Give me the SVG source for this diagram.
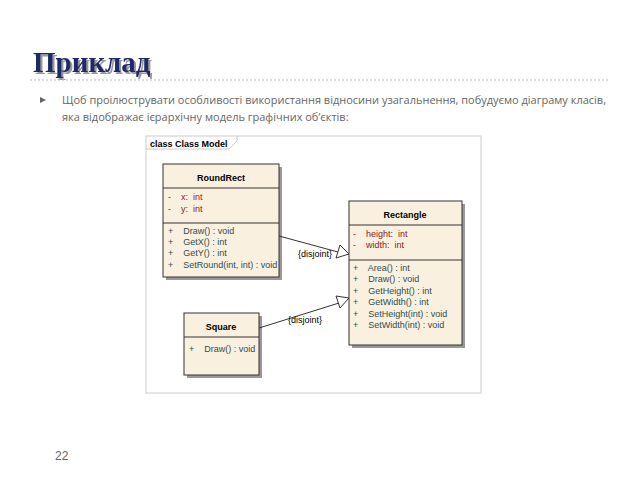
<svg xmlns="http://www.w3.org/2000/svg" width="638" height="478" viewBox="0 0 638 478">
<style>
.t{font-family:"Liberation Sans",Arial,sans-serif;font-size:9px;white-space:pre}
.b{font-weight:bold}
.a{fill:#8b1a1a}.m{fill:#2f4f4f}
.box{fill:#faf0e0;stroke:#333;stroke-width:1}
.sh{fill:#999}
.ln{stroke:#333;stroke-width:1;fill:none}
</style>
<defs><filter id="ds" x="-10%" y="-20%" width="130%" height="150%"><feDropShadow dx="2" dy="2" stdDeviation="0.3" flood-color="#999"/></filter></defs>
<rect width="638" height="478" fill="#fff"/>
<text x="33" y="72" font-family="Liberation Serif,serif" font-weight="bold" font-size="29" fill="#1f2a6b" filter="url(#ds)">Приклад</text>
<line x1="30" y1="80" x2="610" y2="80" stroke="#bbb" stroke-dasharray="2,2"/>
<path d="M40 97 l6 3 -6 3z" fill="#666"/>
<g font-family="Open Sans,Liberation Sans,sans-serif" font-size="11" fill="#666">
<text x="62" y="104" textLength="544">Щоб проілюструвати особливості використання відносини узагальнення, побудуємо діаграму класів,</text>
<text x="62" y="121">яка відображає ієрархічну модель графічних об’єктів:</text>
</g>
<text x="55" y="460" font-family="Liberation Sans,sans-serif" font-size="12" fill="#666">22</text>
<g id="frame">
<rect x="146" y="136" width="335" height="257" fill="#fff" stroke="#ccc"/>
<path d="M146 149 H229 L237 141 V136" fill="none" stroke="#ccc"/>
<text class="t b" x="150" y="147">class Class Model</text>
</g>
<g id="RoundRect">
<rect class="sh" x="166" y="167" width="116" height="113"/>
<rect class="box" x="163" y="164" width="116" height="113"/>
<line class="ln" x1="163" y1="188" x2="279" y2="188"/><line class="ln" x1="163" y1="223" x2="279" y2="223"/>
<text class="t b" x="221" y="181" text-anchor="middle">RoundRect</text>
<text class="t a" x="168" y="200" xml:space="preserve">-    x:  int</text><text class="t a" x="168" y="212" xml:space="preserve">-    y:  int</text>
<text class="t m" x="168" y="234" xml:space="preserve">+    Draw() : void</text><text class="t m" x="168" y="245" xml:space="preserve">+    GetX() : int</text>
<text class="t m" x="168" y="256" xml:space="preserve">+    GetY() : int</text><text class="t m" x="168" y="268" xml:space="preserve">+    SetRound(int, int) : void</text>
</g>
<g id="Rectangle">
<rect class="sh" x="352" y="204" width="113" height="144"/>
<rect class="box" x="349" y="201" width="113" height="144"/>
<line class="ln" x1="349" y1="225" x2="462" y2="225"/><line class="ln" x1="349" y1="260" x2="462" y2="260"/>
<text class="t b" x="405" y="218" text-anchor="middle">Rectangle</text>
<text class="t a" x="353" y="237" xml:space="preserve">-    height:  int</text><text class="t a" x="353" y="248" xml:space="preserve">-    width:  int</text>
<text class="t m" x="353" y="271" xml:space="preserve">+    Area() : int</text><text class="t m" x="353" y="282" xml:space="preserve">+    Draw() : void</text>
<text class="t m" x="353" y="294" xml:space="preserve">+    GetHeight() : int</text><text class="t m" x="353" y="305" xml:space="preserve">+    GetWidth() : int</text>
<text class="t m" x="353" y="317" xml:space="preserve">+    SetHeight(int) : void</text><text class="t m" x="353" y="328" xml:space="preserve">+    SetWidth(int) : void</text>
</g>
<g id="Square">
<rect class="sh" x="187" y="316" width="75" height="62"/>
<rect class="box" x="184" y="313" width="75" height="62"/>
<line class="ln" x1="184" y1="337" x2="259" y2="337"/>
<text class="t b" x="221" y="330" text-anchor="middle">Square</text>
<text class="t m" x="189" y="352" xml:space="preserve">+    Draw() : void</text>
</g>
<g id="connectors">
<line class="ln" x1="279" y1="236" x2="338" y2="252"/>
<path d="M349 254 L340 245 L336 258 Z" fill="#fff" stroke="#333"/>
<line class="ln" x1="259" y1="328" x2="339" y2="303"/>
<path d="M349 298 L336 296 L340 308 Z" fill="#fff" stroke="#333"/>
<text class="t" x="298" y="257">{disjoint}</text>
<text class="t" x="288" y="323">{disjoint}</text>
</g>
</svg>
